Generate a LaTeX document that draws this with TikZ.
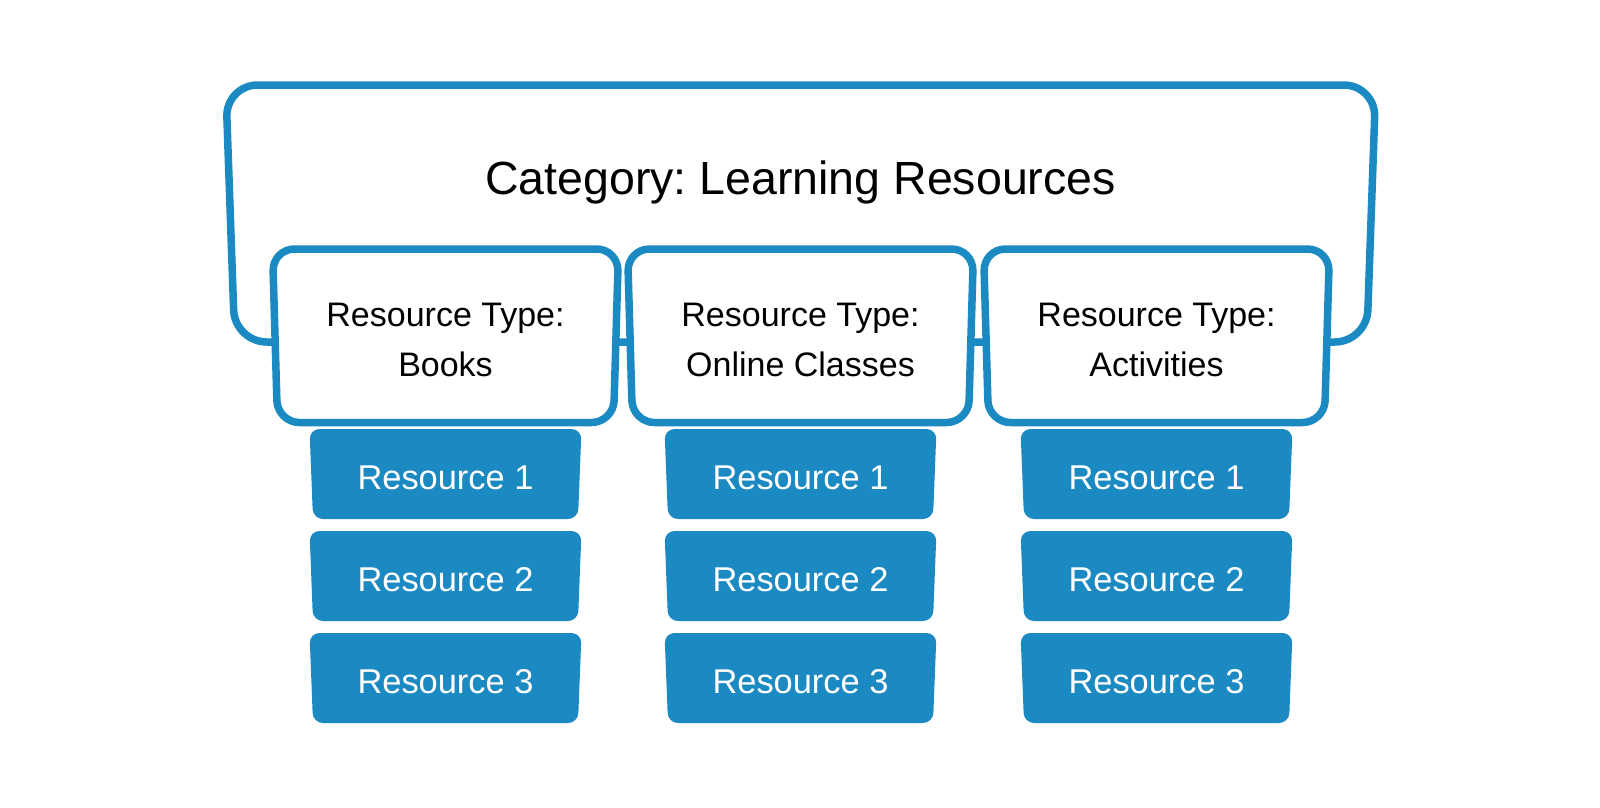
\documentclass[tikz,border=0pt]{standalone}
\usepackage{fontspec}
\setmainfont{Liberation Sans}
\frenchspacing
\definecolor{resblue}{RGB}{28,138,194}
\tikzset{
  catbox/.style={draw=resblue, line width=7.5pt, fill=white, line join=round},
  typebox/.style={draw=resblue, line width=7.5pt, fill=white, line join=round},
  resbox/.style={fill=resblue, draw=none},
  cattext/.style={anchor=base, inner sep=0pt, font=\fontsize{46.5}{56}\selectfont},
  typetext/.style={anchor=base, inner sep=0pt, font=\fontsize{34}{40}\selectfont},
  restext/.style={anchor=base, inner sep=0pt, text=white, font=\fontsize{34.4}{40}\selectfont}
}
% #1 style, #2 cx, #3 ytop, #4 ybot, #5 half-width top, #6 half-width bottom, #7 radius
\newcommand\trapbox[7]{%
  \path[#1, rounded corners=#7pt] ({#2-#5},#3) -- ({#2+#5},#3) -- ({#2+#6},#4) -- ({#2-#6},#4) -- cycle;}
\begin{document}
\begin{tikzpicture}[x=1pt,y=-1pt]
\useasboundingbox (0,0) rectangle (1600,808);
% category frame
\trapbox{catbox}{800.75}{85}{342}{575}{566}{32}
\node[cattext] (cat) at (800.5,194) {Category: Learning Resources};
% resource type boxes
\foreach \cx/\nm/\lbl in {445.5/books/Books, 800.5/online/Online Classes, 1156.5/act/Activities}{
  \trapbox{typebox}{\cx}{249}{422.5}{173}{168}{22}
  \node[typetext] (\nm-a) at (\cx,326.7) {Resource Type:};
  \node[typetext] (\nm-b) at (\cx,376.7) {\lbl};
  \foreach \i/\yt in {1/429, 2/531, 3/633}{
    \trapbox{resbox}{\cx}{\yt}{\yt+90}{136}{132.5}{10}
    \node[restext] (\nm-r\i) at (\cx,\yt+60.3) {Resource \i};
  }
}
\end{tikzpicture}
\end{document}
